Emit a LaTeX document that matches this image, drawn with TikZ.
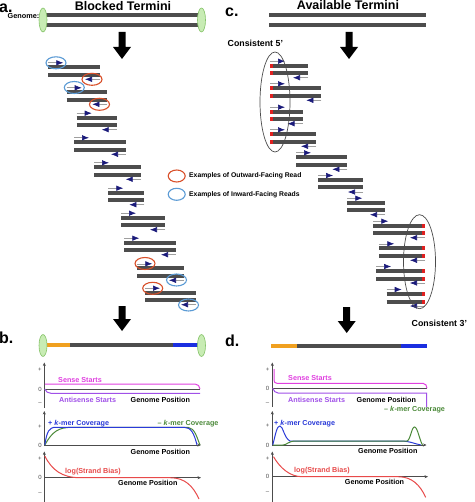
\documentclass[tikz,border=0pt]{standalone}
\usepackage{fontspec}
\setmainfont{Liberation Sans}
\usetikzlibrary{arrows.meta}
\definecolor{bargrey}{HTML}{4D4D4D}
\definecolor{navyhead}{HTML}{1A1A7A}
\definecolor{circred}{HTML}{D9502A}
\definecolor{circblue}{HTML}{5B9BD5}
\definecolor{capred}{HTML}{E02020}
\definecolor{gfill}{HTML}{C8ECB4}
\definecolor{gdraw}{HTML}{86C46A}
\definecolor{senseC}{HTML}{E040E0}
\definecolor{antiC}{HTML}{A050E8}
\definecolor{covB}{HTML}{2A3AD8}
\definecolor{covG}{HTML}{4C8A3A}
\definecolor{biasR}{HTML}{E84A4A}
\definecolor{orangeG}{HTML}{F0A020}
\definecolor{blueG}{HTML}{1A2EE0}
\tikzset{
  bar/.style={line width=4pt, draw=bargrey},
  readarrow/.style={draw=gray!75, line width=0.6pt, -{Latex[length=7pt,width=5.5pt,color=navyhead]}},
  title/.style={font=\bfseries\fontsize{12.5}{14}\selectfont},
  panellbl/.style={font=\bfseries\fontsize{16}{18}\selectfont},
  lbl/.style={font=\bfseries\fontsize{7.2}{8}\selectfont, inner sep=0pt},
  tick/.style={font=\fontsize{6}{7}\selectfont, inner sep=0pt, text=black!70},
  axis/.style={draw=black!70, line width=0.5pt},
  axarrow/.style={axis, -{Stealth[length=3.5pt,width=3pt]}},
  curve/.style={line width=1pt},
  redcirc/.style={draw=circred, line width=1.1pt},
  bluecirc/.style={draw=circblue, line width=1.1pt},
  greenend/.style={fill=gfill, draw=gdraw, line width=0.6pt},
}
\newcommand\readpair[3]{%
  \draw[bar] (#1,#3) -- (#2,#3);
  \draw[bar] (#1,#3+7.5) -- (#2,#3+7.5);
  \draw[readarrow] (#1,#3-4.5) -- (#1+15,#3-4.5);
  \draw[readarrow] (#2,#3+12) -- (#2-15,#3+12);
}
\newcommand\capleft[2]{%
  \fill[capred] (#1,#2-2) rectangle (#1+3,#2+2);
  \fill[capred] (#1,#2+5.5) rectangle (#1+3,#2+9.5);
}
\newcommand\capright[2]{%
  \fill[capred] (#1-3,#2-2) rectangle (#1,#2+2);
  \fill[capred] (#1-3,#2+5.5) rectangle (#1,#2+9.5);
}
\newcommand\bigarrow[3]{%
  \fill[black] (#1-3.5,#2) -- (#1+3.5,#2) -- (#1+3.5,#3-12) -- (#1+9,#3-12) -- (#1,#3) -- (#1-9,#3-12) -- (#1-3.5,#3-12) -- cycle;
}
\begin{document}
\begin{tikzpicture}[x=1pt,y=-1pt]
\useasboundingbox (0,0) rectangle (474,502);
\fill[white] (0,0) rectangle (474,502);

% ---------- Panel a ----------
\node[panellbl, anchor=west, inner sep=0pt] (la) at (-1,8) {a.};
\node[title] (ta) at (123,6) {Blocked Termini};
\draw[bar] (45,15) -- (200,15);
\draw[bar] (45,25) -- (200,25);
\draw[greenend] (43,20) ellipse [x radius=4, y radius=12];
\draw[greenend] (201.5,20) ellipse [x radius=4, y radius=12];
\node[lbl, anchor=east, font=\bfseries\fontsize{7.3}{8}\selectfont] (gen) at (39.5,15.5) {Genome:};
\bigarrow{122}{32}{59}

\readpair{48.3}{100}{67.3}
\readpair{66.7}{107.3}{92.3}
\readpair{76.7}{116.7}{117.7}
\readpair{74}{126}{142.3}
\readpair{94}{140.7}{167.3}
\readpair{108.3}{144.3}{192.7}
\readpair{121}{165}{217.7}
\readpair{124.3}{176}{242.7}
\readpair{137.3}{184}{268.3}
\readpair{145}{196}{292.7}

\draw[bluecirc] (56,62.8) ellipse [x radius=10, y radius=6];
\draw[redcirc] (92,79.3) ellipse [x radius=10, y radius=6];
\draw[bluecirc] (74.3,87.5) ellipse [x radius=10, y radius=6];
\draw[redcirc] (99.5,104.3) ellipse [x radius=10, y radius=6];
\draw[redcirc] (145,263.5) ellipse [x radius=10, y radius=6];
\draw[bluecirc] (176.5,280) ellipse [x radius=10, y radius=6];
\draw[redcirc] (152.7,288.3) ellipse [x radius=10, y radius=6];
\draw[bluecirc] (188.5,305) ellipse [x radius=10, y radius=6];

% legend
\draw[redcirc] (176.7,176) ellipse [x radius=8.5, y radius=6];
\node[lbl, anchor=west, font=\bfseries\fontsize{6.8}{8}\selectfont] (lego) at (189,176) {Examples of Outward-Facing Read};
\draw[bluecirc] (176.7,194.3) ellipse [x radius=8.5, y radius=6];
\node[lbl, anchor=west, font=\bfseries\fontsize{6.8}{8}\selectfont] (legi) at (189,194.3) {Examples of Inward-Facing Reads};

\bigarrow{122}{306}{331}

% ---------- Panel c ----------
\node[panellbl, anchor=west, inner sep=0pt] (lc) at (225,12) {c.};
\node[title] (tc) at (348,5) {Available Termini};
\draw[bar] (269,15) -- (426,15);
\draw[bar] (269,25) -- (426,25);
\bigarrow{349}{32}{59}
\node[lbl, anchor=west, font=\bfseries\fontsize{8.8}{10}\selectfont] (c5) at (227.5,43) {Consistent 5'};

\readpair{270}{308}{65.7}
\readpair{270}{321.3}{88.3}
\readpair{270}{302.5}{111.7}
\readpair{270}{316}{134.3}
\capleft{270}{65.7}
\capleft{270}{88.3}
\capleft{270}{111.7}
\capleft{270}{134.3}
\readpair{296}{347.3}{157.3}
\readpair{318}{363}{180}
\readpair{347.3}{385}{202.7}
\readpair{373.3}{425}{225.7}
\readpair{379.3}{425}{248.3}
\readpair{376}{425}{271}
\readpair{386.7}{425}{294}
\capright{425}{225.7}
\capright{425}{248.3}
\capright{425}{271}
\capright{425}{294}
\draw[black!70, line width=0.7pt] (275,102) ellipse [x radius=15, y radius=50];
\draw[black!70, line width=0.7pt] (419.5,261.7) ellipse [x radius=16, y radius=47];
\node[lbl, anchor=west, font=\bfseries\fontsize{8.8}{10}\selectfont] (c3) at (411.5,323.5) {Consistent 3'};
\bigarrow{346.7}{307}{333}

% ---------- Panel b ----------
\node[panellbl, anchor=west, inner sep=0pt] (lb) at (-1,338) {b.};
\draw[line width=4pt, draw=orangeG] (46,345) -- (70,345);
\draw[bar] (70,345) -- (173.3,345);
\draw[line width=4pt, draw=blueG] (173.3,345) -- (200,345);
\draw[greenend] (43,345.5) ellipse [x radius=4, y radius=11];
\draw[greenend] (201.5,345.5) ellipse [x radius=4, y radius=11];

% b plot 1
\draw[axarrow] (44.3,408) -- (44.3,362.5);
\draw[axis] (44.3,389) -- (200,389);
\node[tick] (b1p) at (40,370) {+};
\node[tick] (b10) at (40,389) {0};
\node[tick] (b1m) at (40,403.3) {–};
\draw[curve, senseC] (44.8,384) -- (195,384) to[out=0,in=90] (200,389);
\draw[curve, antiC] (44.8,389) to[out=-70,in=180] (51,393.3) -- (200,393.3);
\node[lbl, anchor=west, text=senseC] (b1s) at (58,380) {Sense Starts};
\node[lbl, anchor=west, text=antiC] (b1a) at (59,399.5) {Antisense Starts};
\node[lbl, anchor=west] (b1g) at (130.5,399.5) {Genome Position};

% b plot 2
\draw[axarrow] (44.3,446) -- (44.3,411);
\draw[axarrow] (44.3,445) -- (201,445);
\node[tick] (b2p) at (40,426.7) {+};
\node[tick] (b20) at (40,445) {0};
\draw[curve, covG] (44.8,445) .. controls (52,432) and (58,427.3) .. (72,427.3) -- (188,427.3) .. controls (195,428) and (197,438) .. (200,445);
\draw[curve, covB] (44.8,445) .. controls (47,431) and (49,427.3) .. (56,427.3) -- (184,427.3) .. controls (191,427.3) and (194,433) .. (197,445);
\node[lbl, anchor=west, text=covB] (b2b) at (48,424) {+ \textit{k}-mer Coverage};
\node[lbl, anchor=west, text=covG] (b2g) at (157.5,424) {– \textit{k}-mer Coverage};
\node[lbl, anchor=west] (b2x) at (130.5,451.7) {Genome Position};

% b plot 3
\draw[axarrow] (44.3,502) -- (44.3,451.5);
\draw[axarrow] (44.3,477.7) -- (201,477.7);
\node[tick] (b3p) at (40,459) {+};
\node[tick] (b30) at (40,477.7) {0};
\node[tick] (b3m) at (40,493.3) {–};
\draw[curve, biasR] (44.8,456) .. controls (52,470) and (62,477.7) .. (80,477.7) -- (170,477.7) .. controls (185,477.7) and (193,486) .. (199,499);
\node[lbl, anchor=west, text=biasR] (b3r) at (65,471.7) {log(Strand Bias)};
\node[lbl, anchor=west] (b3x) at (118,482.7) {Genome Position};

% ---------- Panel d ----------
\node[panellbl, anchor=west, inner sep=0pt] (ld) at (225,341) {d.};
\draw[line width=4pt, draw=orangeG] (271.3,346) -- (297.3,346);
\draw[bar] (297.3,346) -- (400.7,346);
\draw[line width=4pt, draw=blueG] (400.7,346) -- (427.3,346);

% d plot 1
\draw[axarrow] (272.3,407) -- (272.3,362.5);
\draw[axis] (272.3,388.3) -- (427.3,388.3);
\node[tick] (d1p) at (267.5,370) {+};
\node[tick] (d10) at (267.5,388.3) {0};
\node[tick] (d1m) at (267.5,403.3) {–};
\draw[curve, senseC] (274,369) -- (274,380.5) to[out=-90,in=180] (277,383.3) -- (423,383.3) to[out=0,in=90] (427,388.3);
\draw[curve, antiC] (272.8,388.3) to[out=-70,in=180] (278,393) -- (426.7,393) -- (426.7,407.3);
\node[lbl, anchor=west, text=senseC] (d1s) at (288,378.3) {Sense Starts};
\node[lbl, anchor=west, text=antiC] (d1a) at (288,399.5) {Antisense Starts};
\node[lbl, anchor=west] (d1g) at (356.5,399.5) {Genome Position};
\node[lbl, anchor=west, text=covG] (d2g) at (384,410) {– \textit{k}-mer Coverage};

% d plot 2
\draw[axarrow] (272.3,446) -- (272.3,411);
\draw[axarrow] (272.3,445) -- (426.5,445);
\node[tick] (d2p) at (267.5,426) {+};
\node[tick] (d20) at (267.5,445) {0};
\draw[curve, covB] (272.8,445) .. controls (276,432) and (277,426) .. (280,426) .. controls (283,426) and (284,438) .. (290,441) -- (400,441) .. controls (410,441) and (415,444) .. (421,445);
\draw[curve, covG] (272.8,445) -- (283,445) .. controls (287,445) and (288,441) .. (296,441) -- (407,441) .. controls (410.5,440) and (411.5,427) .. (414.5,427) .. controls (417.5,427) and (419.5,440) .. (422.5,445);
\node[lbl, anchor=west, text=covB] (d2b) at (274,423.3) {+ \textit{k}-mer Coverage};
\node[lbl, anchor=west] (d2x) at (358,450.7) {Genome Position};

% d plot 3
\draw[axarrow] (272.3,502) -- (272.3,451.5);
\draw[axarrow] (272.3,476.7) -- (428,476.7);
\node[tick] (d3p) at (267.5,458.3) {+};
\node[tick] (d30) at (267.5,476.7) {0};
\node[tick] (d3m) at (267.5,493) {–};
\draw[curve, biasR] (273.5,456.7) .. controls (280,468) and (290,476.7) .. (302,476.7) -- (398,476.7) .. controls (412,476.7) and (420,485) .. (425.7,497.3);
\node[lbl, anchor=west, text=biasR] (d3r) at (294,470.7) {log(Strand Bias)};
\node[lbl, anchor=west] (d3x) at (344.7,481.7) {Genome Position};
\end{tikzpicture}
\end{document}
